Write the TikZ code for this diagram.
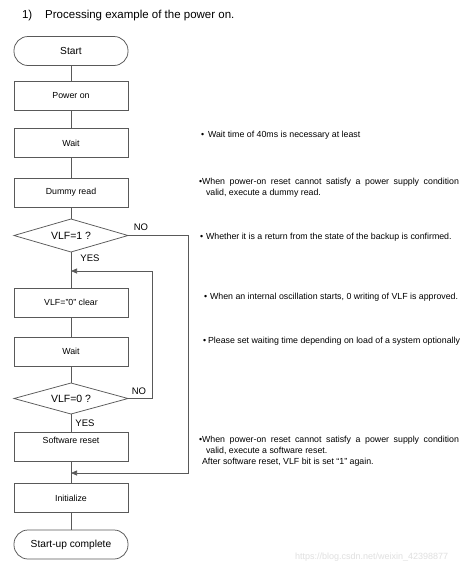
\documentclass[tikz,border=0pt]{standalone}
\usepackage{fontspec}
\setmainfont{Liberation Sans}
\usetikzlibrary{shapes.geometric,arrows.meta}
\begin{document}
\begin{tikzpicture}[x=1pt,y=-1pt,
  every node/.style={inner sep=0pt, outer sep=0pt},
  line/.style={draw=black!65, line width=0.75pt},
  arrowline/.style={line, -{Triangle[length=6pt,width=5pt]}},
  box/.style={draw=black!65, line width=0.75pt, minimum width=114pt, minimum height=29pt, font=\fontsize{8.8}{10}\selectfont},
  term/.style={box, rounded corners=14pt, font=\fontsize{10.2}{12}\selectfont},
  dec/.style={diamond, aspect=3.45, draw=black!65, line width=0.75pt, minimum width=114pt, minimum height=33pt, font=\fontsize{10.5}{12}\selectfont},
  yn/.style={font=\fontsize{9.5}{11}\selectfont},
  note/.style={anchor=north west, align=left, font=\fontsize{8.8}{11}\selectfont}
]
\useasboundingbox (0,0) rectangle (474,568);
\fill[white] (0,0) rectangle (474,568);

\node[anchor=base west, font=\fontsize{11.5}{13}\selectfont] (title) at (22,18) {1)\hspace{13pt}Processing example of the power on.};

\node[term] (start) at (71,51) {Start};
\node[box] (power) at (71,95.5) {Power on};
\node[box] (wait1) at (71,143) {Wait};
\node[box] (dummy) at (71,192.5) {Dummy read};
\node[dec] (d1) at (71,235.5) {VLF=1 ?};
\node[box] (clr) at (71,302.5) {VLF="0" clear};
\node[box] (wait2) at (71,351.5) {Wait};
\node[dec, minimum height=31pt] (d2) at (71,398.5) {VLF=0 ?};
\node[box, label={[anchor=north, yshift=-5pt, font=\fontsize{8.8}{10}\selectfont]north:Software reset}] (sr) at (71,446.5) {};
\node[box] (init) at (71,498) {Initialize};
\node[term, minimum height=29pt] (stop) at (71,544.5) {Start-up complete};

\coordinate (j1) at (71,271);
\coordinate (j2) at (71,473);

\draw[line] (start) -- (power);
\draw[line] (power) -- (wait1);
\draw[line] (wait1) -- (dummy);
\draw[line] (dummy) -- (d1);
\draw[line] (d1) -- (clr);
\draw[line] (clr) -- (wait2);
\draw[line] (wait2) -- (d2);
\draw[line] (d2) -- (sr);
\draw[line] (sr) -- (init);
\draw[line] (init) -- (stop);

\draw[arrowline] (d1.east) -- ++(60,0) |- (j2);
\draw[arrowline] (d2.east) -- ++(24,0) |- (j1);

\node[yn] (no1) at (141,227) {NO};
\node[yn] (yes1) at (90,258) {YES};
\node[yn] (no2) at (139,391) {NO};
\node[yn] (yes2) at (85,423) {YES};

\node[note] (n1) at (201,131.5) {•\hspace{4pt}Wait time of 40ms is necessary at least};
\node[note] (n2) at (199,178.5) {\makebox[260pt][s]{•When power-on reset cannot satisfy a power supply condition}\\\hspace*{7pt}valid, execute a dummy read.};
\node[note] (n3) at (200,233.5) {•\hspace{3pt}Whether it is a return from the state of the backup is confirmed.};
\node[note] (n4) at (204,293.5) {•\hspace{3pt}When an internal oscillation starts, 0 writing of VLF is approved.};
\node[note] (n5) at (203,337.5) {•\hspace{2pt}Please set waiting time depending on load of a system optionally};
\node[note] (n6) at (199,436.5) {\makebox[260pt][s]{•When power-on reset cannot satisfy a power supply condition}\\\hspace*{7pt}valid, execute a software reset.\\\hspace*{3pt}After software reset, VLF bit is set “1” again.};

\node[anchor=base west, text=black!12, font=\fontsize{9}{10}\selectfont] (wm) at (295,559) {https://blog.csdn.net/weixin\_42398877};
\end{tikzpicture}
\end{document}
